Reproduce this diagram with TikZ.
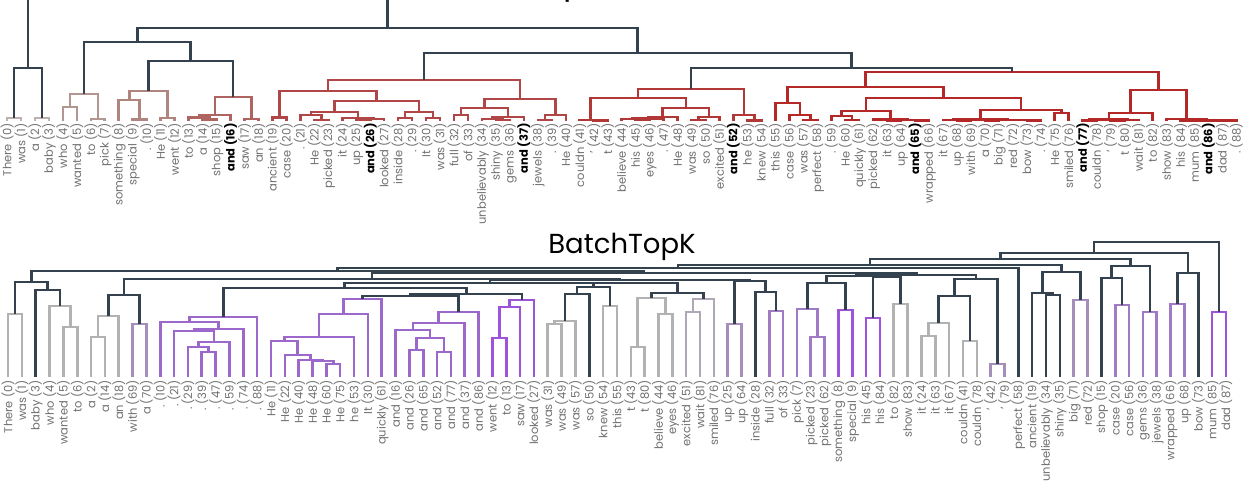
\documentclass[tikz,border=0pt]{standalone}
\usepackage{fontspec}
\setmainfont{Poppins}
\usepackage{tikz}

\definecolor{dk}{RGB}{52,66,80}
\definecolor{ca}{RGB}{190,178,176}
\definecolor{cbone}{RGB}{178,150,146}
\definecolor{cbtwo}{RGB}{176,132,127}
\definecolor{cbthree}{RGB}{176,100,96}
\definecolor{cc}{RGB}{176,70,70}
\definecolor{cd}{RGB}{178,56,56}
\definecolor{ce}{RGB}{180,40,40}
\definecolor{bg}{RGB}{178,178,178}
\definecolor{bgtwo}{RGB}{176,168,182}
\definecolor{bgp}{RGB}{166,142,186}
\definecolor{bpl}{RGB}{160,122,196}
\definecolor{bp}{RGB}{156,104,204}
\definecolor{bpb}{RGB}{158,84,218}
\definecolor{labgrey}{RGB}{112,112,112}

\tikzset{
  lnk/.style={line width=2.6pt},
  leaflab/.style={rotate=90, anchor=east, inner sep=0pt, text=labgrey, font=\fontsize{11.5}{12}\selectfont},
  andlab/.style={leaflab, text=black, font=\fontsize{11.5}{12}\selectfont\bfseries},
  title/.style={anchor=base, font=\fontsize{27.5}{30}\selectfont},
  toptitle/.style={anchor=base, font=\fontsize{34}{36}\selectfont}
}

\newcommand{\ulink}[6]{\draw[lnk,#1] (#2,#5) |- (#3,#4) -- (#3,#6);}

\begin{document}
\begin{tikzpicture}[x=1pt,y=-1pt]
\useasboundingbox (0,0) rectangle (1245,491);
\clip (0,0) rectangle (1245,491);

\foreach \w [count=\i from 0] in {There,was,a,baby,who,wanted,to,pick,something,special,.,He,went,to,a,shop,and,saw,an,ancient,case,.,He,picked,it,up,and,looked,inside,.,It,was,full,of,unbelievably,shiny,gems,and,jewels,.,He,couldn,',t,believe,his,eyes,.,He,was,so,excited,and,he,knew,this,case,was,perfect,.,He,quickly,picked,it,up,and,wrapped,it,up,with,a,big,red,bow,.,He,smiled,and,couldn,',t,wait,to,show,his,mum,and,dad,.}
  {\expandafter\xdef\csname tok\i\endcsname{\w}}

\node[toptitle] (toptitle) at (622,-7) {TopK (ours)};
\node[title] (bottitle) at (622,253) {BatchTopK};

% top tree
\begin{scope}[shift={(7,0)},xscale=13.97]
\ulink{ca}{0}{1}{118}{121}{121}
\ulink{ca}{2}{3}{118}{121}{121}
\ulink{dk}{0.5}{2.5}{68}{118}{118}
\ulink{cbone}{4}{5}{107}{121}{121}
\ulink{cbone}{6}{7}{119}{121}{121}
\ulink{cbone}{4.5}{6.5}{94}{107}{119}
\ulink{cbtwo}{9}{10}{119.5}{121}{121}
\ulink{cbtwo}{8}{9.5}{100}{121}{119.5}
\ulink{cbtwo}{11}{12}{118}{121}{121}
\ulink{cbtwo}{8.75}{11.5}{91}{100}{118}
\ulink{cbthree}{14}{15}{119.5}{121}{121}
\ulink{cbthree}{13}{14.5}{117.5}{121}{119.5}
\ulink{cbthree}{13.75}{16}{115}{117.5}{121}
\ulink{cbthree}{17}{18}{119}{121}{121}
\ulink{cbthree}{14.875}{17.5}{97}{115}{119}
\ulink{dk}{10.125}{16.1875}{61}{91}{97}
\ulink{dk}{5.5}{13.15625}{42}{94}{61}
\ulink{cc}{19}{20}{117.5}{121}{121}
\ulink{cc}{22}{23}{120}{121}{121}
\ulink{cc}{21}{22.5}{115}{121}{120}
\ulink{cc}{25}{26}{120}{121}{121}
\ulink{cc}{25.5}{27}{119}{120}{121}
\ulink{cc}{24}{26.25}{118}{121}{119}
\ulink{cc}{21.75}{25.125}{112}{115}{118}
\ulink{cc}{28}{29}{118}{121}{121}
\ulink{cc}{30}{31}{118}{121}{121}
\ulink{cc}{28.5}{30.5}{112}{118}{118}
\ulink{cc}{23.4375}{29.5}{101}{112}{112}
\ulink{cc}{19.5}{26.46875}{91}{117.5}{101}
\ulink{cc}{32}{33}{115}{121}{121}
\ulink{cc}{35}{36}{120}{121}{121}
\ulink{cc}{34}{35.5}{119}{121}{120}
\ulink{cc}{34.75}{37}{117}{119}{121}
\ulink{cc}{32.5}{35.875}{108}{115}{117}
\ulink{cc}{38}{39}{120}{121}{121}
\ulink{cc}{38.5}{40}{115}{120}{121}
\ulink{cc}{34.1875}{39.25}{99}{108}{115}
\ulink{cc}{22.984375}{36.71875}{80}{91}{99}
\ulink{cd}{42}{43}{120.5}{121}{121}
\ulink{cd}{41}{42.5}{120}{121}{120.5}
\ulink{cd}{45}{46}{120}{121}{121}
\ulink{cd}{44}{45.5}{119}{121}{120}
\ulink{cd}{44.75}{47}{118.5}{119}{121}
\ulink{cd}{45.875}{48}{117}{118.5}{121}
\ulink{cd}{49}{50}{120}{121}{121}
\ulink{cd}{49.5}{51}{117}{120}{121}
\ulink{cd}{46.9375}{50.25}{108}{117}{117}
\ulink{cd}{41.75}{48.59375}{98}{120}{108}
\ulink{cd}{53}{54}{120.5}{121}{121}
\ulink{cd}{52}{53.5}{115}{121}{120.5}
\ulink{cd}{45.171875}{52.75}{89}{98}{115}
\ulink{ce}{57}{58}{120}{121}{121}
\ulink{ce}{56}{57.5}{115}{121}{120}
\ulink{ce}{55}{56.75}{103}{121}{115}
\ulink{ce}{60}{61}{120}{121}{121}
\ulink{ce}{59}{60.5}{116}{121}{120}
\ulink{ce}{63}{64}{120.5}{121}{121}
\ulink{ce}{65}{66}{120.5}{121}{121}
\ulink{ce}{63.5}{65.5}{120}{120.5}{120.5}
\ulink{ce}{62}{64.5}{119.5}{121}{120}
\ulink{ce}{59.75}{63.25}{111}{116}{119.5}
\ulink{ce}{68}{69}{120.5}{121}{121}
\ulink{ce}{67}{68.5}{120}{121}{120.5}
\ulink{ce}{70}{71}{120.5}{121}{121}
\ulink{ce}{73}{74}{120.5}{121}{121}
\ulink{ce}{72}{73.5}{120}{121}{120.5}
\ulink{ce}{70.5}{72.75}{119.8}{120.5}{120}
\ulink{ce}{67.75}{71.625}{119.5}{120}{119.8}
\ulink{ce}{75}{76}{113}{121}{121}
\ulink{ce}{69.6875}{75.5}{110}{119.5}{113}
\ulink{ce}{61.5}{72.59375}{98}{111}{110}
\ulink{ce}{55.875}{67.046875}{87}{103}{98}
\ulink{ce}{77}{78}{120.5}{121}{121}
\ulink{ce}{79}{80}{120.5}{121}{121}
\ulink{ce}{79.5}{81}{120}{120.5}{121}
\ulink{ce}{77.5}{80.25}{119.5}{120.5}{120}
\ulink{ce}{78.875}{82}{113}{119.5}{121}
\ulink{ce}{84}{85}{120.8}{121}{121}
\ulink{ce}{86}{87}{120.8}{121}{121}
\ulink{ce}{86.5}{88}{120.5}{120.8}{121}
\ulink{ce}{84.5}{87.25}{120.2}{120.8}{120.5}
\ulink{ce}{83}{85.875}{119}{121}{120.2}
\ulink{ce}{80.4375}{84.4375}{90}{113}{119}
\ulink{ce}{61.4609375}{82.4375}{72}{87}{90}
\ulink{dk}{48.9609375}{71.94921875}{68}{89}{72}
\ulink{dk}{29.8515625}{60.455}{53}{80}{68}
\ulink{dk}{9.328125}{45.153}{28}{42}{53}
\ulink{dk}{1.5}{27.24}{-30}{68}{28}
\end{scope}

% bottom tree
\begin{scope}[shift={(8,0)},xscale=13.84]
\ulink{bg}{0}{1}{314}{377}{377}
\ulink{bg}{4}{5}{327}{377}{377}
\ulink{bg}{3}{4.5}{306}{377}{327}
\ulink{dk}{2}{3.75}{290}{377}{306}
\ulink{dk}{0.5}{2.875}{282}{314}{290}
\ulink{bg}{6}{7}{337}{377}{377}
\ulink{bg}{6.5}{8}{316}{337}{377}
\ulink{bgp}{9}{10}{324}{377}{377}
\ulink{dk}{7.25}{9.5}{295}{316}{324}
\ulink{bp}{14}{15}{352}{377}{377}
\ulink{bp}{13}{14.5}{347}{377}{352}
\ulink{bp}{13.75}{16}{342}{347}{377}
\ulink{bp}{12}{14.875}{331}{377}{342}
\ulink{bp}{13.4375}{17}{329}{331}{377}
\ulink{bp}{11}{15.21875}{322}{377}{329}
\ulink{bp}{13.109375}{18}{317}{322}{377}
\ulink{bp}{23}{24}{364}{377}{377}
\ulink{bp}{22}{23.5}{361}{377}{364}
\ulink{bp}{21}{22.75}{360}{377}{361}
\ulink{bp}{20}{21.875}{355}{377}{360}
\ulink{bp}{19}{20.9375}{341}{377}{355}
\ulink{bp}{19.96875}{25}{337}{341}{377}
\ulink{bp}{22.484375}{26}{314}{337}{377}
\ulink{bp}{24.2421875}{27}{299}{314}{377}
\ulink{bp}{29}{30}{350}{377}{377}
\ulink{bp}{31}{32}{352}{377}{377}
\ulink{bp}{29.5}{31.5}{338}{350}{352}
\ulink{bp}{28}{30.5}{330}{377}{338}
\ulink{bp}{29.25}{33}{323}{330}{377}
\ulink{bp}{31.125}{34}{312}{323}{377}
\ulink{bpb}{35}{36}{338}{377}{377}
\ulink{bpb}{35.5}{37}{307}{338}{377}
\ulink{bpb}{36.25}{38}{300}{307}{377}
\ulink{dk}{25.62109375}{32.5625}{296}{299}{312}
\ulink{dk}{29.0918}{37.125}{294}{296}{300}
\ulink{dk}{15.5546875}{33.1084}{288}{317}{294}
\ulink{bg}{39}{40}{324}{377}{377}
\ulink{bg}{39.5}{41}{321}{324}{377}
\ulink{dk}{40.25}{42}{294}{321}{377}
\ulink{bg}{43}{44}{306}{377}{377}
\ulink{dk}{41.125}{43.5}{287}{294}{306}
\ulink{bg}{45}{46}{347}{377}{377}
\ulink{bg}{47}{48}{314}{377}{377}
\ulink{bg}{45.5}{47.5}{298}{347}{314}
\ulink{bgtwo}{49}{50}{312}{377}{377}
\ulink{bgtwo}{49.5}{51}{299}{312}{377}
\ulink{dk}{46.5}{50.25}{293}{298}{299}
\ulink{dk}{42.3125}{48.375}{283}{287}{293}
\ulink{bgp}{52}{53}{324}{377}{377}
\ulink{bpl}{55}{56}{311}{377}{377}
\ulink{dk}{54}{55.5}{292}{377}{311}
\ulink{dk}{52.5}{54.75}{281}{324}{292}
\ulink{bpl}{58}{59}{337}{377}{377}
\ulink{bpl}{57}{58.5}{309}{377}{337}
\ulink{bpb}{60}{61}{310}{377}{377}
\ulink{dk}{57.75}{60.5}{283}{309}{310}
\ulink{bpb}{62}{63}{318}{377}{377}
\ulink{bg}{64}{65}{304}{377}{377}
\ulink{dk}{62.5}{64.5}{277}{318}{304}
\ulink{bg}{66}{67}{336}{377}{377}
\ulink{bg}{66.5}{68}{323}{336}{377}
\ulink{bg}{69}{70}{341}{377}{377}
\ulink{dk}{67.25}{69.5}{296}{323}{341}
\ulink{bgp}{71}{72}{364}{377}{377}
\ulink{dk}{68.375}{71.5}{279}{296}{364}
\ulink{dk}{75}{76}{295}{377}{377}
\ulink{dk}{74}{75.5}{293}{377}{295}
\ulink{bgp}{77}{78}{300}{377}{377}
\ulink{dk}{74.75}{77.5}{272}{293}{300}
\ulink{bpl}{80}{81}{305}{377}{377}
\ulink{dk}{79}{80.5}{278}{377}{305}
\ulink{bpl}{82}{83}{312}{377}{377}
\ulink{dk}{79.75}{82.5}{266}{278}{312}
\ulink{bpl}{84}{85}{304}{377}{377}
\ulink{dk}{84.5}{86}{273}{304}{377}
\ulink{bpb}{87}{88}{312}{377}{377}
\ulink{dk}{24.3315}{45.34375}{283}{288}{283}
\ulink{dk}{34.8376}{53.625}{280}{283}{281}
\ulink{dk}{8.375}{44.2313}{279}{295}{280}
\ulink{dk}{59.125}{63.5}{276}{283}{277}
\ulink{dk}{61.3125}{69.9375}{275}{276}{279}
\ulink{dk}{26.3032}{65.625}{273}{279}{275}
\ulink{dk}{1.6875}{45.9641}{271}{282}{273}
\ulink{dk}{23.8258}{73}{268}{271}{377}
\ulink{dk}{48.4129}{76.125}{265}{268}{272}
\ulink{dk}{62.2690}{81.125}{259}{265}{266}
\ulink{dk}{71.6970}{85.25}{253}{259}{273}
\ulink{dk}{78.4735}{87.5}{242}{253}{312}
\end{scope}

\def\andw{and}
\foreach \i in {0,...,88}{
  \edef\cur{\csname tok\i\endcsname}
  \ifx\cur\andw
    \node[andlab] (t\i) at ({7+13.97*\i},123) {\cur\ (\i)};
  \else
    \node[leaflab] (t\i) at ({7+13.97*\i},123) {\cur\ (\i)};
  \fi
}
\foreach \k [count=\j from 0] in {0,1,3,4,5,6,2,14,18,69,70,10,21,29,39,47,59,74,88,11,22,40,48,60,75,53,30,61,16,26,65,52,77,37,86,12,13,17,27,31,49,57,50,54,55,43,80,44,46,51,81,76,25,64,28,32,33,7,23,62,8,9,45,84,82,83,24,63,67,41,78,42,79,58,19,34,35,71,72,15,20,56,36,38,66,68,73,85,87}
  {\node[leaflab] (b\j) at ({8+13.84*\j},380) {\csname tok\k\endcsname\ (\k)};}
\end{tikzpicture}
\end{document}
